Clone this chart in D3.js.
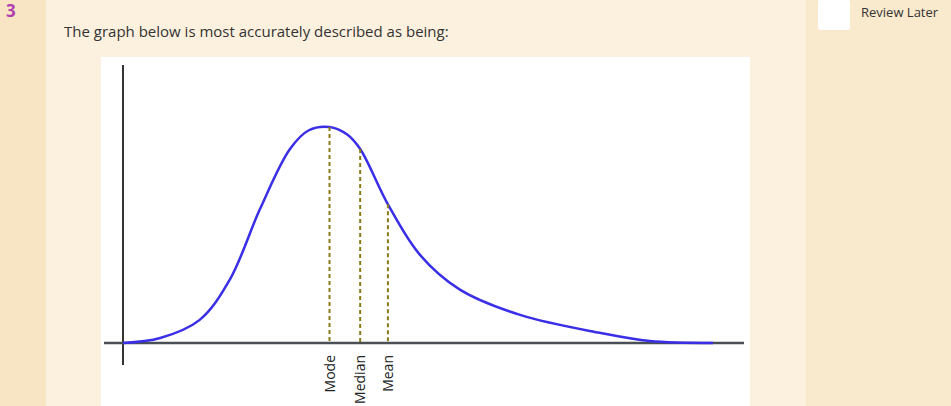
<!DOCTYPE html>
<html><head><meta charset="utf-8">
<script src="https://cdn.jsdelivr.net/npm/d3@7"></script>
<style>body{margin:0;background:#fcf1de;font-family:"Open Sans",sans-serif}</style>
</head><body>
<svg id="chart" width="951" height="406"></svg>
<script>
// curve samples (x in 0..100, density in 0..100)
var curveX = [0, 6.3, 13, 18.1, 23.2, 28.3, 31.5, 35, 38, 40.2, 44.9, 50.3, 57.1, 67.3, 80.8, 89.3, 100];
var curveY = [0, 2.3, 10.7, 29.3, 61.9, 89.8, 98.5, 100, 96.5, 89.8, 64.2, 40.9, 24.7, 13, 4.7, 0.9, 0];
var markerNames = ["Mode", "Median", "Mean"];
var markerX = [35, 40.2, 44.9];
var markerY = [100, 89.8, 64.2];

var svg = d3.select("#chart");
svg.append("rect").attr("x", 0).attr("y", 0).attr("width", 46).attr("height", 406).attr("fill", "#f8e5c3");
svg.append("rect").attr("x", 806).attr("y", 0).attr("width", 145).attr("height", 406).attr("fill", "#faeacd");
svg.append("text").attr("x", 6).attr("y", 17).attr("fill", "#b13fb0").attr("font-size", 17).attr("font-weight", "bold").text("3");
svg.append("text").attr("x", 64).attr("y", 37).attr("fill", "#333").attr("font-size", 15).text("The graph below is most accurately described as being:");
svg.append("rect").attr("x", 818).attr("y", 0).attr("width", 32).attr("height", 30).attr("fill", "#fff").attr("rx", 2);
svg.append("text").attr("x", 861).attr("y", 17).attr("fill", "#333").attr("font-size", 13).text("Review Later");
svg.append("rect").attr("x", 101).attr("y", 57).attr("width", 649).attr("height", 349).attr("fill", "#fff");

var x = d3.scaleLinear().domain([0, 100]).range([123, 713]);
var y = d3.scaleLinear().domain([0, 100]).range([343, 127]);

// axes
svg.append("line").attr("x1", 123).attr("x2", 123).attr("y1", 65).attr("y2", 365).attr("stroke", "#333").attr("stroke-width", 2);
svg.append("line").attr("x1", 104).attr("x2", 744).attr("y1", y(0)).attr("y2", y(0)).attr("stroke", "#4a4f55").attr("stroke-width", 2.5);

var pts = curveX.map((d, i) => [d, curveY[i]]);
svg.append("path").datum(pts)
    .attr("d", d3.line().x(d => x(d[0])).y(d => y(d[1])).curve(d3.curveCatmullRom.alpha(0.5)))
    .attr("fill", "none").attr("stroke", "#3a2ee6").attr("stroke-width", 2.5);

markerNames.forEach(function (name, i) {
    svg.append("line").attr("x1", x(markerX[i])).attr("x2", x(markerX[i]))
        .attr("y1", y(markerY[i])).attr("y2", y(0))
        .attr("stroke", "#8a7b18").attr("stroke-width", 2).attr("stroke-dasharray", "4,3");
    svg.append("text").attr("transform", "translate(" + (x(markerX[i]) + 5) + ",355) rotate(-90)")
        .attr("text-anchor", "end").attr("font-size", 14).attr("fill", "#222").text(name);
});
</script>
</body></html>
